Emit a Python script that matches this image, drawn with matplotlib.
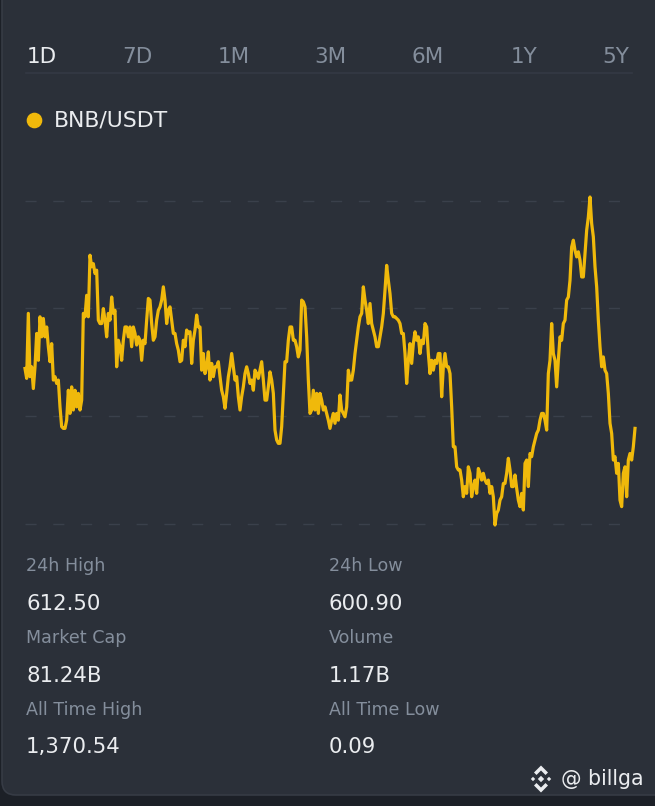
import matplotlib
matplotlib.use("Agg")
import matplotlib.pyplot as plt
from matplotlib.patches import FancyBboxPatch, Polygon
import numpy as np

# ---------------- data ----------------
tabs = ["1D", "7D", "1M", "3M", "6M", "1Y", "5Y"]
active_tab = "1D"
series_name = "BNB/USDT"

prices = [
    606.44, 606.09, 608.39, 606.15, 606.50, 605.73, 606.50, 607.68, 606.73, 608.27,
    607.56, 608.21, 607.56, 607.91, 607.21, 606.68, 607.32, 606.03, 606.15, 605.91,
    606.03, 605.08, 604.38, 604.32, 604.32, 604.61, 605.67, 604.85, 605.79, 604.97,
    605.67, 605.08, 605.56, 604.97, 605.32, 608.39, 608.27, 609.03, 608.27, 610.45,
    610.04, 610.15, 609.80, 609.92, 608.15, 608.03, 608.03, 608.56, 608.15, 607.56,
    608.39, 608.15, 608.97, 608.39, 608.50, 606.50, 607.44, 607.21, 606.73, 607.44,
    607.91, 607.91, 607.56, 607.91, 607.21, 607.91, 607.68, 607.27, 607.56, 607.44,
    606.73, 607.44, 607.32, 608.15, 608.92, 608.86, 608.03, 607.44, 607.56, 608.15,
    608.50, 608.62, 608.86, 609.33, 608.86, 608.03, 608.50, 608.62, 608.15, 607.68,
    607.68, 607.32, 607.09, 606.68, 606.73, 607.44, 607.21, 607.80, 607.68, 607.74,
    606.62, 607.44, 607.80, 608.33, 607.91, 607.91, 606.38, 606.97, 606.26, 606.50,
    607.03, 606.03, 606.62, 606.15, 606.50, 606.50, 606.68, 606.15, 605.67, 605.44,
    605.03, 605.56, 606.15, 606.50, 606.97, 606.50, 606.03, 606.15, 605.44, 604.97,
    605.44, 605.79, 606.26, 606.50, 606.26, 605.91, 606.03, 605.67, 606.38, 606.26,
    606.09, 606.38, 606.68, 606.03, 605.32, 605.32, 605.79, 606.32, 606.03, 605.56,
    604.26, 603.91, 603.79, 603.79, 604.38, 605.56, 606.68, 606.68, 607.44, 607.91,
    607.91, 607.44, 607.44, 607.21, 606.85, 607.09, 608.86, 608.80, 608.62, 607.56,
    606.03, 604.85, 604.97, 605.67, 604.97, 605.56, 604.85, 605.56, 605.32, 604.97,
    605.08, 604.85, 604.61, 604.32, 604.61, 604.85, 604.50, 604.85, 604.61, 605.50,
    604.97, 604.85, 604.73, 605.08, 606.38, 606.03, 606.03, 606.38, 606.97, 607.44,
    607.91, 608.27, 608.39, 609.33, 608.86, 608.50, 608.03, 608.74, 608.03, 607.80,
    607.56, 607.21, 607.21, 607.56, 607.91, 608.39, 609.21, 610.09, 609.56, 609.09,
    608.39, 608.27, 608.27, 608.21, 608.15, 608.03, 607.68, 607.68, 606.97, 605.91,
    606.73, 607.32, 606.62, 607.32, 607.74, 607.44, 607.56, 606.97, 607.44, 607.32,
    608.03, 607.91, 606.97, 606.26, 606.73, 606.38, 606.73, 606.62, 606.97, 606.97,
    605.44, 606.50, 606.97, 606.50, 606.50, 606.26, 605.08, 603.67, 603.67, 602.96,
    602.85, 602.85, 602.49, 601.90, 602.26, 602.02, 602.96, 602.73, 601.90, 602.26,
    602.49, 602.02, 602.90, 602.73, 602.49, 602.73, 602.49, 602.37, 602.49, 602.02,
    602.26, 601.90, 600.90, 601.31, 601.43, 601.78, 601.90, 602.37, 602.37, 602.73,
    603.26, 602.85, 602.26, 602.26, 602.67, 602.20, 601.78, 601.55, 602.02, 601.43,
    603.08, 603.20, 602.26, 603.43, 603.32, 603.67, 603.91, 604.14, 604.26, 604.61,
    604.85, 604.85, 604.61, 604.26, 606.26, 606.73, 608.03, 606.97, 606.73, 605.79,
    606.73, 607.56, 607.44, 608.03, 608.15, 608.86, 608.97, 609.56, 610.74, 610.98,
    610.62, 610.39, 610.57, 610.27, 609.68, 609.68, 610.51, 611.33, 611.80, 612.51,
    611.57, 611.10, 610.04, 609.33, 608.15, 607.21, 606.50, 606.85, 606.38, 606.26,
    605.56, 604.50, 604.14, 603.20, 603.32, 602.73, 603.08, 601.78, 601.55, 602.73,
    602.96, 601.90, 603.20, 603.43, 603.20, 603.67, 604.32,
]
grid_levels = [600.94, 604.76, 608.58, 612.36]

stat_labels = [["24h High", "24h Low"], ["Market Cap", "Volume"], ["All Time High", "All Time Low"]]
stat_values = [["612.50", "600.90"], ["81.24B", "1.17B"], ["1,370.54", "0.09"]]
watermark = "@ billga"

# ---------------- style ----------------
W, H = 655, 806
BG = "#2b3039"
OUTER = "#1c2027"
YELLOW = "#f0b90b"
WHITE = "#eaecef"
GRAY = "#848e9c"
FONT = "DejaVu Sans"

fig = plt.figure(figsize=(W / 100, H / 100), dpi=100)
fig.patch.set_facecolor(OUTER)

def fx(x):
    return x / W

def fy(y):
    return 1 - y / H

# card background
card_ax = fig.add_axes([0, 0, 1, 1])
card_ax.set_xlim(0, W)
card_ax.set_ylim(H, 0)
card_ax.axis("off")
card_ax.add_patch(FancyBboxPatch((2, -40), W + 40, 40 + 797 - 2, boxstyle="round,pad=0,rounding_size=14",
                                 facecolor=BG, edgecolor="#363b45", linewidth=1.2))

# tabs
tab_x = [42, 137, 234, 330, 428, 524, 616]
for t, x in zip(tabs, tab_x):
    fig.text(fx(x), fy(57), t, ha="center", va="center", fontsize=15.5, family=FONT,
             color=WHITE if t == active_tab else GRAY)
card_ax.plot([26, 632], [73, 73], color="#343944", lw=1.2)

# legend
card_ax.scatter([34], [120], s=105, color=YELLOW, zorder=3)
fig.text(fx(54), fy(121), series_name, ha="left", va="center", fontsize=15.8, family=FONT, color=WHITE)

# chart
top_px, bot_px = 197, 525
ax = fig.add_axes([fx(25), fy(bot_px), (635 - 25) / W, (bot_px - top_px) / H])
ax.set_facecolor("none")
x = np.arange(len(prices))
ax.set_xlim(0, len(prices) - 1)
ax.set_ylim(min(prices), max(prices))
for g in grid_levels:
    ax.axhline(g, color="#3a404b", lw=1.0, dashes=(8, 12), zorder=1, clip_on=False)
ax.plot(x, prices, color=YELLOW, lw=2.3, solid_joinstyle="round", clip_on=False, zorder=3)
ax.axis("off")

# stats
col_x = [26, 329]
label_y = [566, 638, 710]
value_y = [604, 676, 747]
for r in range(3):
    for c in range(2):
        fig.text(fx(col_x[c]), fy(label_y[r]), stat_labels[r][c], ha="left", va="center",
                 fontsize=12.6, family=FONT, color=GRAY)
        fig.text(fx(col_x[c]), fy(value_y[r]), stat_values[r][c], ha="left", va="center",
                 fontsize=15.3, family=FONT, color=WHITE)

# watermark with logo
cx, cy = 541, 779
def diamond(x0, y0, r):
    return Polygon([(x0, y0 - r), (x0 + r, y0), (x0, y0 + r), (x0 - r, y0)], closed=True,
                   facecolor=WHITE, edgecolor="none")
card_ax.add_patch(diamond(cx, cy, 3.2))
for dx, dy in [(-8, 0), (8, 0)]:
    card_ax.add_patch(diamond(cx + dx, cy + dy, 2.2))
for sign in (-1, 1):
    card_ax.add_patch(Polygon([(cx - 7, cy + sign * 6.5), (cx, cy + sign * 13.5), (cx + 7, cy + sign * 6.5),
                               (cx + 4.5, cy + sign * 4), (cx, cy + sign * 8.5), (cx - 4.5, cy + sign * 4)],
                              closed=True, facecolor=WHITE, edgecolor="none"))
fig.text(fx(561), fy(779), watermark, ha="left", va="center", fontsize=14.8, family=FONT, color=WHITE)

fig.savefig("out.png", dpi=100, facecolor=fig.get_facecolor())
